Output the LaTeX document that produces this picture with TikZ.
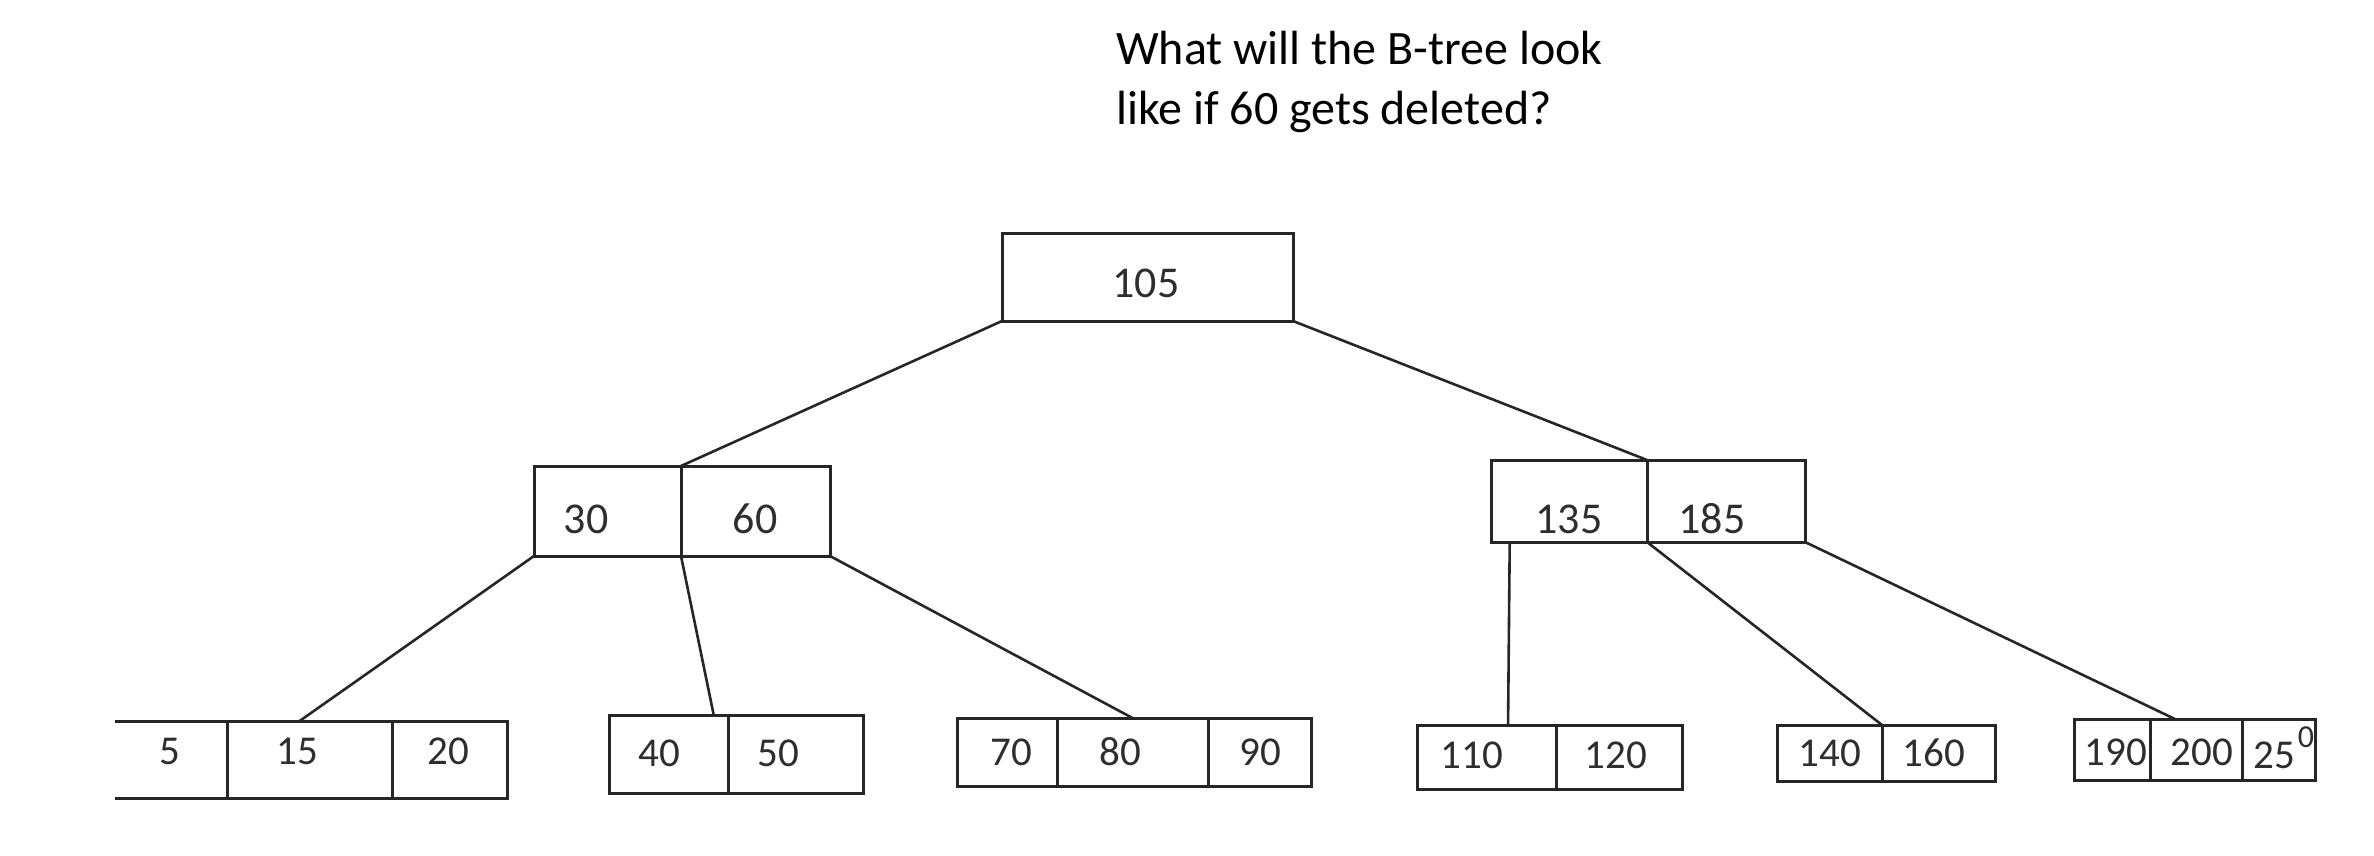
\documentclass[tikz,border=0pt]{standalone}
\usepackage{fontspec}
\setmainfont{Carlito}
\usetikzlibrary{calc}
\definecolor{boxcol}{HTML}{262626}
\definecolor{numcol}{HTML}{2E2E2E}
\newcommand\mycell[6]{%
  \node[#6, minimum width={(#3-#2)*1pt}, minimum height={(#5-#4)*1pt}, anchor=north west] (#1) at (#2,#4) {};}
\tikzset{
  cellbox/.style={draw=boxcol, line width=3pt, inner sep=0pt, outer sep=0pt, rectangle},
  openbox/.style={inner sep=0pt, outer sep=0pt, rectangle},
  edge/.style={draw=boxcol, line width=2.6pt},
  bignum/.style={text=numcol, inner sep=0pt, font=\fontsize{44}{44}\selectfont},
  leafnum/.style={text=numcol, inner sep=0pt, font=\fontsize{41}{41}\selectfont},
  title/.style={text=black, inner sep=0pt, anchor=base west, font=\fontsize{48}{58}\selectfont}
}
\begin{document}
\begin{tikzpicture}[x=1pt,y=-1pt]
\fill[white] (0,0) rectangle (2374,855);
\useasboundingbox (0,0) rectangle (2374,855);

% title
\node[title] (t1) at (1116,64) {What will the B-tree look};
\node[title] (t2) at (1116,124) {like if 60 gets deleted?};

% root
\mycell{R105}{1002}{1293}{233}{321}{cellbox}
\node[bignum] (n105) at (1146,283) {105};

% left internal
\mycell{L30}{534}{681}{466}{556}{cellbox}
\mycell{L60}{681}{830}{466}{556}{cellbox}
\node[bignum] (n30) at (586,519) {30};
\node[bignum] (n60) at (755,519) {60};

% right internal
\mycell{R135}{1491}{1647}{460}{542}{cellbox}
\mycell{R185}{1647}{1805}{460}{542}{cellbox}
\node[bignum] (n135) at (1569,519) {135};
\node[bignum] (n185) at (1712,519) {185};

% leaf 1 (left side cut off)
\mycell{A5}{115}{227}{721}{798}{openbox}
\draw[draw=boxcol, line width=3pt] (A5.north west) -- (A5.north east) (A5.south west) -- (A5.south east);
\mycell{A15}{227}{392}{721}{798}{cellbox}
\mycell{A20}{392}{507}{721}{798}{cellbox}
\node[leafnum] (n5) at (170,751) {5};
\node[leafnum] (n15) at (297,751) {15};
\node[leafnum] (n20) at (448,751) {20};

% leaf 2
\mycell{B40}{609}{728}{715}{793}{cellbox}
\mycell{B50}{728}{863}{715}{793}{cellbox}
\node[leafnum] (n40) at (659,753) {40};
\node[leafnum] (n50) at (778,753) {50};

% leaf 3
\mycell{C70}{957}{1057}{718}{786}{cellbox}
\mycell{C80}{1057}{1208}{718}{786}{cellbox}
\mycell{C90}{1208}{1311}{718}{786}{cellbox}
\node[leafnum] (n70) at (1011,752) {70};
\node[leafnum] (n80) at (1120,752) {80};
\node[leafnum] (n90) at (1260,752) {90};

% leaf 4
\mycell{D110}{1417}{1556}{725}{789}{cellbox}
\mycell{D120}{1556}{1682}{725}{789}{cellbox}
\node[leafnum] (n110) at (1472,755) {110};
\node[leafnum] (n120) at (1616,755) {120};

% leaf 5
\mycell{E140}{1777}{1882}{725}{781}{cellbox}
\mycell{E160}{1882}{1995}{725}{781}{cellbox}
\node[leafnum] (n140) at (1830,753) {140};
\node[leafnum] (n160) at (1934,753) {160};

% leaf 6
\mycell{F190}{2074}{2150}{719}{780}{cellbox}
\mycell{F200}{2150}{2242}{719}{780}{cellbox}
\mycell{F250}{2242}{2315}{719}{780}{cellbox}
\node[leafnum] (n190) at (2116,752) {190};
\node[leafnum] (n200) at (2202,752) {200};
\node[leafnum, anchor=base west] (n250) at (2253,768) {25\rlap{\kern3pt\raisebox{21pt}{\fontsize{32}{32}\selectfont 0}}};

% connectors
\draw[edge] (R105.south west) -- (L30.north east);
\draw[edge] (R105.south east) -- (R135.north east);
\draw[edge] (L30.south west) -- ($(A15.north west)!0.44!(A15.north east)$);
\draw[edge] (L30.south east) -- ($(B40.north west)!0.88!(B40.north east)$);
\draw[edge] (L60.south east) -- (C80.north);
\draw[edge] ($(R135.south west)!0.12!(R135.south east)$) -- ($(D110.north west)!0.655!(D110.north east)$);
\draw[edge] (R185.south west) -- (E160.north west);
\draw[edge] (R185.south east) -- ($(F200.north west)!0.27!(F200.north east)$);
\end{tikzpicture}
\end{document}
